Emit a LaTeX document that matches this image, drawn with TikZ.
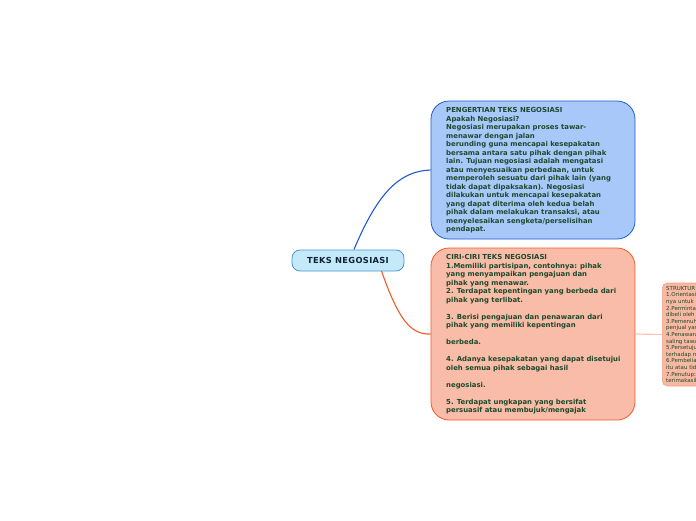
\documentclass[tikz,border=0pt]{standalone}
\usepackage{fontspec}
\setmainfont{DejaVu Sans}
\newfontfamily\widefont[LetterSpace=4]{DejaVu Sans Bold}
\definecolor{bluefill}{HTML}{A8C8FA}
\definecolor{blueline}{HTML}{1F5BD0}
\definecolor{orfill}{HTML}{F8BCA8}
\definecolor{orline}{HTML}{F25A28}
\definecolor{centerfill}{HTML}{C4EAFA}
\definecolor{centerline}{HTML}{4A94D8}
\definecolor{txtgreen}{HTML}{1D4A2C}
\definecolor{txtnavy}{HTML}{10203C}
\definecolor{rfill}{HTML}{F8B8A2}
\definecolor{rline}{HTML}{F4A088}
\definecolor{rconn}{HTML}{F8C4B4}
\begin{document}
\begin{tikzpicture}[x=1pt,y=-1pt,
  bigbox/.style={draw, line width=0.8pt, rounded corners=18pt, minimum width=204pt, inner sep=0pt},
  bodytext/.style={anchor=west, align=left, inner sep=0pt, text=txtgreen, font=\fontsize{6.9}{8.5}\selectfont\bfseries},
  smalltext/.style={anchor=north west, align=left, inner sep=0pt, text=txtgreen, font=\fontsize{5.5}{6.6}\selectfont},
  conn/.style={line width=1.1pt}]
\useasboundingbox (0,0) rectangle (696,520);
\clip (0,0) rectangle (696,520);
% central
\node[draw=centerline, fill=centerfill, line width=0.8pt, rounded corners=8pt,
  minimum width=112pt, minimum height=21pt, inner sep=0pt,
  text=txtnavy, font=\widefont\fontsize{8.3}{9}\selectfont] (center) at (348,260.5) {TEKS NEGOSIASI};
% blue box
\node[bigbox, draw=blueline, fill=bluefill, minimum height=138pt] (pengertian) at (533,170) {};
\node[bodytext] (pengertiantext) at (446,170.5) {PENGERTIAN TEKS NEGOSIASI\\
Apakah Negosiasi?\\
Negosiasi merupakan proses tawar-\\
menawar dengan jalan\\
berunding guna mencapai kesepakatan\\
bersama antara satu pihak dengan pihak\\
lain. Tujuan negosiasi adalah mengatasi\\
atau menyesuaikan perbedaan, untuk\\
memperoleh sesuatu dari pihak lain (yang\\
tidak dapat dipaksakan). Negosiasi\\
dilakukan untuk mencapai kesepakatan\\
yang dapat diterima oleh kedua belah\\
pihak dalam melakukan transaksi, atau\\
menyelesaikan sengketa/perselisihan\\
pendapat.};
% orange box
\node[bigbox, draw=orline, fill=orfill, minimum height=172pt] (ciri) at (533,334) {};
\node[bodytext] (ciritext) at (446,334.5) {CIRI-CIRI TEKS NEGOSIASI\\
1.Memiliki partisipan, contohnya: pihak\\
yang menyampaikan pengajuan dan\\
pihak yang menawar.\\
2. Terdapat kepentingan yang berbeda dari\\
pihak yang terlibat.\\
\mbox{}\\
3. Berisi pengajuan dan penawaran dari\\
pihak yang memiliki kepentingan\\
\mbox{}\\
berbeda.\\
\mbox{}\\
4. Adanya kesepakatan yang dapat disetujui\\
oleh semua pihak sebagai hasil\\
\mbox{}\\
negosiasi.\\
\mbox{}\\
5. Terdapat ungkapan yang bersifat\\
persuasif atau membujuk/mengajak};
% right box (clipped at picture edge, as in the reference)
\node[draw=rline, fill=rfill, line width=0.6pt, rounded corners=5pt,
  minimum width=110pt, minimum height=103pt, inner sep=0pt, anchor=west] (struktur) at (662,334.5) {};
\node[smalltext] (strukturtext) at (666,286) {STRUKTUR TEKS NEGOSIASI\\
1.Orientasi: pembukaan atau tujuan-\\
nya untuk bernegosiasi.\\
2.Permintaan: barang yang ingin\\
dibeli oleh pembeli.\\
3.Pemenuhan: kesanggupan\\
penjual yang ditawarkan.\\
4.Penawaran: kedua pihak\\
saling tawar-menawar.\\
5.Persetujuan: kesepakatan\\
terhadap negosiasi.\\
6.Pembelian: membeli barang\\
itu atau tidak.\\
7.Penutup: ucapan\\
terimakasih.};
% connectors
\draw[conn, draw=blueline] (354,249.5) .. controls (378,192) and (400,171) .. (pengertian.west);
\draw[conn, draw=orline] (381.5,271) .. controls (398,318) and (410,335) .. (ciri.west);
\draw[line width=1.2pt, draw=rconn] (ciri.east) -- (struktur.west);
\end{tikzpicture}
\end{document}
